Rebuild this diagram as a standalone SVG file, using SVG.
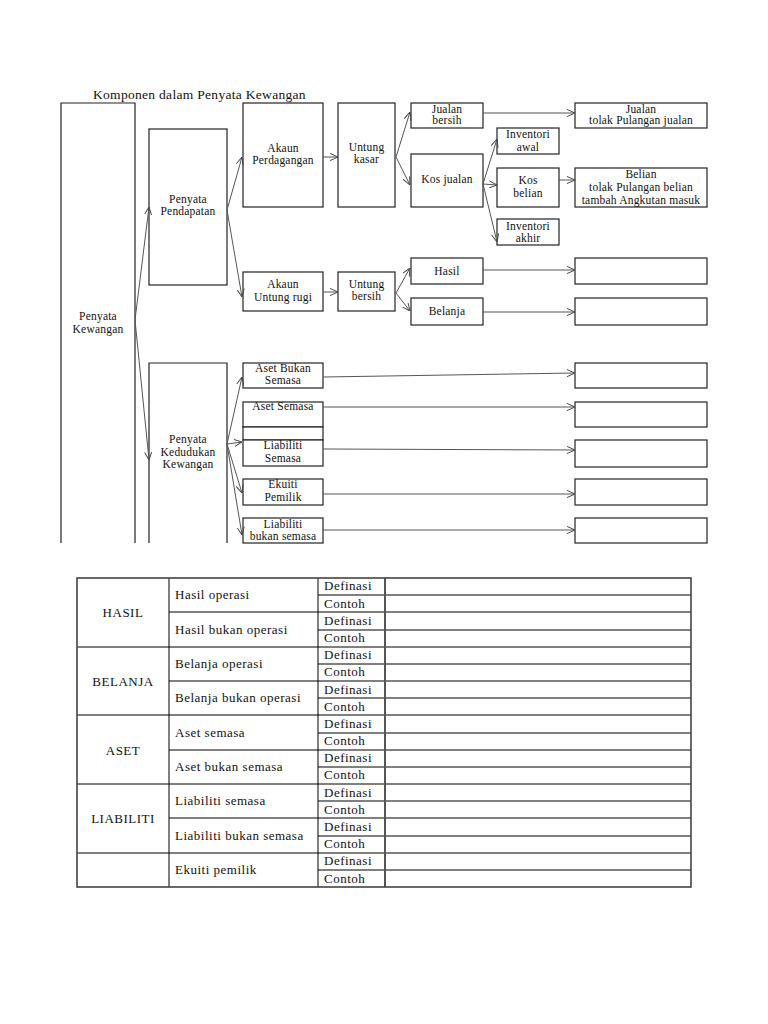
<svg xmlns="http://www.w3.org/2000/svg" width="768" height="1024" viewBox="0 0 768 1024">
<style>
.bx{fill:#fff;stroke:#222;stroke-width:1.2}
.ob{fill:none;stroke:#222;stroke-width:1.2}
.t{font-family:"Liberation Serif","Times New Roman",serif;font-size:11.5px;letter-spacing:0.2px;fill:#111;text-anchor:middle}
.ti{font-family:"Liberation Serif","Times New Roman",serif;font-size:13.5px;letter-spacing:0.3px;fill:#111}
.c line{stroke:#555;stroke-width:1;marker-end:url(#arr)}
.tb{font-family:"Liberation Serif","Times New Roman",serif;font-size:13px;letter-spacing:0.5px;fill:#111}
.tbc{text-anchor:middle}
.tl{stroke:#000;stroke-width:1}
.tg{stroke:#555;stroke-width:2}
</style>
<defs>
<marker id="arr" viewBox="0 0 10 10" refX="10" refY="5" markerWidth="8" markerHeight="8" orient="auto" markerUnits="userSpaceOnUse">
<path d="M0,0.5 L10,5 L0,9.5" fill="none" stroke="#444" stroke-width="1.2"/>
</marker>
</defs>
<rect width="768" height="1024" fill="#fff"/>
<text class="ti" x="93" y="99">Komponen dalam Penyata Kewangan</text>

<g id="penyata-kewangan"><path class="ob" d="M61,543 V103 H135 V543"/><text class="t" x="98" y="320">Penyata</text><text class="t" x="98" y="333">Kewangan</text></g>
<g id="penyata-pendapatan"><rect class="bx" x="149" y="129" width="78" height="156"/><text class="t" x="188" y="203">Penyata</text><text class="t" x="188" y="215">Pendapatan</text></g>
<g id="penyata-kedudukan"><path class="ob" d="M149,543 V363 H227 V543"/><text class="t" x="188" y="443">Penyata</text><text class="t" x="188" y="456">Kedudukan</text><text class="t" x="188" y="468">Kewangan</text></g>
<g id="akaun-perdagangan"><rect class="bx" x="243" y="103" width="80" height="104"/><text class="t" x="283" y="152">Akaun</text><text class="t" x="283" y="164">Perdagangan</text></g>
<g id="untung-kasar"><rect class="bx" x="338" y="103" width="57" height="104"/><text class="t" x="366.5" y="151">Untung</text><text class="t" x="366.5" y="163">kasar</text></g>
<g id="akaun-untung-rugi"><rect class="bx" x="243" y="272" width="80" height="39"/><text class="t" x="283" y="288">Akaun</text><text class="t" x="283" y="301">Untung rugi</text></g>
<g id="untung-bersih"><rect class="bx" x="338" y="272" width="57" height="39"/><text class="t" x="366.5" y="288">Untung</text><text class="t" x="366.5" y="300">bersih</text></g>
<g id="jualan-bersih"><rect class="bx" x="411" y="103" width="72" height="25"/><text class="t" x="447" y="113">Jualan</text><text class="t" x="447" y="124">bersih</text></g>
<g id="jualan-tolak"><rect class="bx" x="575" y="103" width="132" height="25"/><text class="t" x="641" y="113">Jualan</text><text class="t" x="641" y="124">tolak Pulangan jualan</text></g>
<g id="kos-jualan"><rect class="bx" x="411" y="154" width="72" height="53"/><text class="t" x="447" y="183">Kos jualan</text></g>
<g id="inventori-awal"><rect class="bx" x="497" y="128" width="62" height="26"/><text class="t" x="528" y="138">Inventori</text><text class="t" x="528" y="151">awal</text></g>
<g id="kos-belian"><rect class="bx" x="497" y="168" width="62" height="39"/><text class="t" x="528" y="184">Kos</text><text class="t" x="528" y="197">belian</text></g>
<g id="inventori-akhir"><rect class="bx" x="497" y="219" width="62" height="26"/><text class="t" x="528" y="230">Inventori</text><text class="t" x="528" y="242">akhir</text></g>
<g id="belian"><rect class="bx" x="575" y="168" width="132" height="39"/><text class="t" x="641" y="178">Belian</text><text class="t" x="641" y="191">tolak Pulangan belian</text><text class="t" x="641" y="204">tambah Angkutan masuk</text></g>
<g id="hasil"><rect class="bx" x="411" y="258" width="72" height="26"/><text class="t" x="447" y="275">Hasil</text></g>
<g id="belanja"><rect class="bx" x="411" y="298" width="72" height="27"/><text class="t" x="447" y="315">Belanja</text></g>
<g id="hasil-kosong"><rect class="bx" x="575" y="258" width="132" height="26"/></g>
<g id="belanja-kosong"><rect class="bx" x="575" y="298" width="132" height="27"/></g>
<g id="aset-bukan-semasa"><rect class="bx" x="243" y="363" width="80" height="25"/><text class="t" x="283" y="372">Aset Bukan</text><text class="t" x="283" y="384">Semasa</text></g>
<g id="aset-semasa"><rect class="bx" x="243" y="402" width="80" height="25"/><text class="t" x="283" y="410">Aset Semasa</text></g>
<g id="kotak-tengah"><rect class="bx" x="243" y="427" width="80" height="13"/></g>
<g id="liabiliti-semasa"><rect class="bx" x="243" y="440" width="80" height="26"/><text class="t" x="283" y="449">Liabiliti</text><text class="t" x="283" y="462">Semasa</text></g>
<g id="ekuiti-pemilik"><rect class="bx" x="243" y="479" width="80" height="26"/><text class="t" x="283" y="488">Ekuiti</text><text class="t" x="283" y="501">Pemilik</text></g>
<g id="liabiliti-bukan-semasa"><rect class="bx" x="243" y="518" width="80" height="25"/><text class="t" x="283" y="528">Liabiliti</text><text class="t" x="283" y="540">bukan semasa</text></g>
<g id="kosong-1"><rect class="bx" x="575" y="363" width="132" height="25"/></g>
<g id="kosong-2"><rect class="bx" x="575" y="402" width="132" height="25"/></g>
<g id="kosong-3"><rect class="bx" x="575" y="440" width="132" height="27"/></g>
<g id="kosong-4"><rect class="bx" x="575" y="479" width="132" height="26"/></g>
<g id="kosong-5"><rect class="bx" x="575" y="518" width="132" height="25"/></g>

<g id="connectors" class="c">
<line x1="135" y1="320" x2="149" y2="207"/>
<line x1="135" y1="320" x2="149" y2="460"/>
<line x1="227" y1="210" x2="242" y2="157"/>
<line x1="227" y1="210" x2="242" y2="297"/>
<line x1="323" y1="157" x2="338" y2="157"/>
<line x1="323" y1="292" x2="338" y2="292"/>
<line x1="396" y1="157" x2="410" y2="112"/>
<line x1="396" y1="157" x2="410" y2="185"/>
<line x1="483" y1="113" x2="575" y2="113"/>
<line x1="483" y1="184" x2="497" y2="139"/>
<line x1="483" y1="184" x2="497" y2="185"/>
<line x1="483" y1="184" x2="497" y2="242"/>
<line x1="559" y1="180" x2="575" y2="180"/>
<line x1="396" y1="293" x2="410" y2="268"/>
<line x1="396" y1="293" x2="410" y2="311"/>
<line x1="483" y1="270" x2="575" y2="270"/>
<line x1="483" y1="312" x2="575" y2="312"/>
<line x1="227" y1="444" x2="242" y2="377"/>
<line x1="227" y1="444" x2="242" y2="442"/>
<line x1="227" y1="444" x2="242" y2="493"/>
<line x1="227" y1="444" x2="242" y2="535"/>
<line x1="323" y1="377" x2="575" y2="373"/>
<line x1="323" y1="407" x2="575" y2="407"/>
<line x1="323" y1="449" x2="575" y2="450"/>
<line x1="323" y1="494" x2="575" y2="494"/>
<line x1="323" y1="530" x2="575" y2="530"/>
</g>

<g id="jadual">
<g id="jadual-garis">
<line class="tl" x1="318" y1="595" x2="691" y2="595"/>
<line class="tl" x1="169" y1="612" x2="691" y2="612"/>
<line class="tl" x1="318" y1="630" x2="691" y2="630"/>
<line class="tl" x1="77" y1="647" x2="691" y2="647"/>
<line class="tl" x1="318" y1="664" x2="691" y2="664"/>
<line class="tl" x1="169" y1="681" x2="691" y2="681"/>
<line class="tl" x1="318" y1="698" x2="691" y2="698"/>
<line class="tl" x1="77" y1="715" x2="691" y2="715"/>
<line class="tl" x1="318" y1="733" x2="691" y2="733"/>
<line class="tl" x1="169" y1="750" x2="691" y2="750"/>
<line class="tl" x1="318" y1="767" x2="691" y2="767"/>
<line class="tl" x1="77" y1="784" x2="691" y2="784"/>
<line class="tl" x1="318" y1="801" x2="691" y2="801"/>
<line class="tl" x1="169" y1="818" x2="691" y2="818"/>
<line class="tl" x1="318" y1="836" x2="691" y2="836"/>
<line class="tl" x1="77" y1="853" x2="691" y2="853"/>
<line class="tl" x1="318" y1="870" x2="691" y2="870"/>
<line class="tl" x1="169" y1="578" x2="169" y2="887"/>
<line class="tl" x1="318" y1="578" x2="318" y2="887"/>
<line class="tg" x1="385" y1="578" x2="385" y2="887"/>
<rect x="77" y="578" width="614" height="309" fill="none" stroke="#444" stroke-width="1.6"/>
</g>
<text class="tb tbc" x="123" y="617">HASIL</text>
<text class="tb tbc" x="123" y="686">BELANJA</text>
<text class="tb tbc" x="123" y="755">ASET</text>
<text class="tb tbc" x="123" y="823">LIABILITI</text>
<text class="tb" x="175" y="599">Hasil operasi</text>
<text class="tb" x="175" y="634">Hasil bukan operasi</text>
<text class="tb" x="175" y="668">Belanja operasi</text>
<text class="tb" x="175" y="702">Belanja bukan operasi</text>
<text class="tb" x="175" y="737">Aset semasa</text>
<text class="tb" x="175" y="771">Aset bukan semasa</text>
<text class="tb" x="175" y="805">Liabiliti semasa</text>
<text class="tb" x="175" y="840">Liabiliti bukan semasa</text>
<text class="tb" x="175" y="874">Ekuiti pemilik</text>
<text class="tb" x="324" y="590">Definasi</text>
<text class="tb" x="324" y="608">Contoh</text>
<text class="tb" x="324" y="625">Definasi</text>
<text class="tb" x="324" y="642">Contoh</text>
<text class="tb" x="324" y="659">Definasi</text>
<text class="tb" x="324" y="676">Contoh</text>
<text class="tb" x="324" y="694">Definasi</text>
<text class="tb" x="324" y="711">Contoh</text>
<text class="tb" x="324" y="728">Definasi</text>
<text class="tb" x="324" y="745">Contoh</text>
<text class="tb" x="324" y="762">Definasi</text>
<text class="tb" x="324" y="779">Contoh</text>
<text class="tb" x="324" y="797">Definasi</text>
<text class="tb" x="324" y="814">Contoh</text>
<text class="tb" x="324" y="831">Definasi</text>
<text class="tb" x="324" y="848">Contoh</text>
<text class="tb" x="324" y="865">Definasi</text>
<text class="tb" x="324" y="883">Contoh</text>
</g>
</svg>
